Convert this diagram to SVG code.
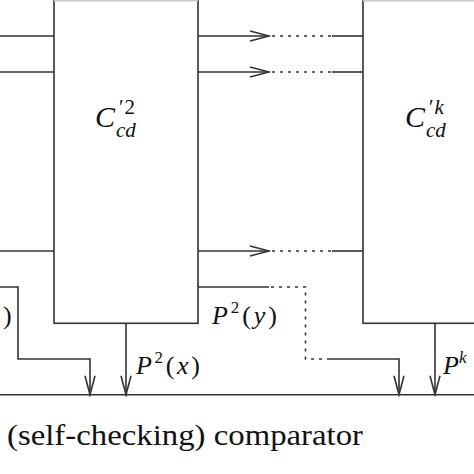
<svg xmlns="http://www.w3.org/2000/svg" width="474" height="474" viewBox="0 0 474 474">
  <style>
    .w { fill: none; stroke: #333; stroke-width: 1.6; }
    .d { fill: none; stroke: #333; stroke-width: 1.6; stroke-dasharray: 3 5; }
    .box { fill: #fff; stroke: #333; stroke-width: 1.6; }
    .i { font-style: italic; }
  </style>
  <defs>
    <marker id="arr" markerUnits="userSpaceOnUse" viewBox="-21 -7 23 14" refX="0" refY="0" markerWidth="23" markerHeight="14" orient="auto">
      <path d="M-19,-5 L0,0 L-19,5" fill="none" stroke="#333" stroke-width="1.6"/>
    </marker>
  </defs>

  <rect width="474" height="474" fill="#fff"/>

  <g font-family="'Liberation Serif', 'DejaVu Serif', 'Noto Serif', serif" fill="#111">
  <g id="box-c2">
    <rect class="box" x="54" y="-2" width="144" height="325.3"/>
    <line x1="54" y1="0.8" x2="198" y2="0.8" stroke="#c8c8c8" stroke-width="1.6"/>
    <text class="i" x="95" y="127" font-size="30">C</text>
    <text x="119" y="114" font-size="21">′<tspan dx="1">2</tspan></text>
    <text class="i" x="116" y="137" font-size="21">cd</text>
  </g>

  <g id="box-ck">
    <rect class="box" x="363" y="-2" width="120" height="325.3"/>
    <line x1="363" y1="0.8" x2="474" y2="0.8" stroke="#c8c8c8" stroke-width="1.6"/>
    <text class="i" x="405" y="127" font-size="30">C</text>
    <text x="429" y="114" font-size="21">′<tspan class="i" dx="1">k</tspan></text>
    <text class="i" x="426" y="137" font-size="21">cd</text>
  </g>

  <g id="connectors">
    <line class="w" x1="0" y1="36" x2="54" y2="36"/>
    <line class="w" x1="0" y1="72" x2="54" y2="72"/>
    <line class="w" x1="0" y1="251" x2="54" y2="251"/>
    <line class="w" x1="198" y1="36" x2="269" y2="36" marker-end="url(#arr)"/>
    <line class="d" x1="272" y1="36" x2="332" y2="36"/>
    <line class="w" x1="332" y1="36" x2="363" y2="36"/>
    <line class="w" x1="198" y1="72" x2="269" y2="72" marker-end="url(#arr)"/>
    <line class="d" x1="272" y1="72" x2="332" y2="72"/>
    <line class="w" x1="332" y1="72" x2="363" y2="72"/>
    <line class="w" x1="198" y1="251" x2="269" y2="251" marker-end="url(#arr)"/>
    <line class="d" x1="272" y1="251" x2="332" y2="251"/>
    <line class="w" x1="332" y1="251" x2="363" y2="251"/>
    <path class="w" d="M0,287 H18 V359 H90 V394.7" marker-end="url(#arr)"/>
    <line class="w" x1="126" y1="323.3" x2="126" y2="394.7" marker-end="url(#arr)"/>
    <line class="w" x1="198" y1="287" x2="269" y2="287"/>
    <path class="d" d="M271,287 H305.5 V359 H328"/>
    <path class="w" d="M328,359 H399 V394.7" marker-end="url(#arr)"/>
    <line class="w" x1="435" y1="323.3" x2="435" y2="394.7" marker-end="url(#arr)"/>
    <line class="w" x1="0" y1="394.7" x2="474" y2="394.7"/>
  </g>

  <g id="labels">
    <text x="3" y="324" font-size="26">)</text>
    <text id="label-p2y" x="212" y="324" font-size="26" textLength="65"><tspan class="i">P</tspan><tspan font-size="17" dy="-11">2</tspan><tspan dy="11">(</tspan><tspan class="i">y</tspan>)</text>
    <text id="label-p2x" x="136" y="374" font-size="26" textLength="64"><tspan class="i">P</tspan><tspan font-size="17" dy="-11">2</tspan><tspan dy="11">(</tspan><tspan class="i">x</tspan>)</text>
    <text id="label-pk" x="443" y="374" font-size="26"><tspan class="i">P</tspan><tspan class="i" font-size="17" dy="-11">k</tspan></text>
    <text id="label-comparator" x="7" y="445" font-size="30" textLength="356" lengthAdjust="spacingAndGlyphs">(self-checking) comparator</text>
  </g>
  </g>
</svg>
